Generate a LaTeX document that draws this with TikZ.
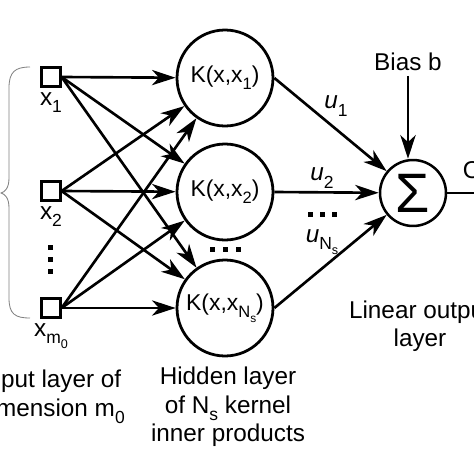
\documentclass[tikz,border=0pt]{standalone}
\usepackage{fontspec}
\setmainfont{Liberation Sans}
\usetikzlibrary{arrows.meta}

\newcommand{\lsub}[1]{\raisebox{-0.3em}{\scalebox{0.72}{#1}}}

\begin{document}
\begin{tikzpicture}[x=0.02532cm, y=-0.02532cm,
    >={Stealth[length=17pt, width=11pt, inset=5pt]},
    every node/.style={font=\fontsize{17.5}{20.5}\selectfont},
    inbox/.style={draw, line width=1.6pt, minimum size=0.48cm, inner sep=0pt},
    kernel/.style={draw, circle, line width=2pt, minimum size=2.43cm,
        inner sep=0pt, font=\fontsize{16.5}{20}\selectfont},
    link/.style={->, line width=1.9pt}]

% Frame of the picture
\useasboundingbox (0,0) rectangle (474,474);
\clip (0,0) rectangle (474,474);

% Input layer
\node[inbox, label=below:{x\lsub{1}}] (in1) at (51,77) {};
\node[inbox, label=below:{x\lsub{2}}] (in2) at (51,191) {};
\node[inbox, label=below:{x\lsub{m\lsub{0}}}] (in3) at (51,308) {};
\foreach \y in {247,259,271}
    \fill (48,\y-2.5) rectangle (53,\y+2.5);

% Brace round the inputs
\draw[gray, line width=0.6pt] (30,67) .. controls (15,67) and (9,72) .. (9,88)
    -- (9,178) .. controls (9,188) and (5,192) .. (1,193)
    .. controls (5,194) and (9,198) .. (9,208)
    -- (9,298) .. controls (9,314) and (15,318) .. (30,318);

% Hidden layer of kernels
\node[kernel] (hid1) at (225,78) {K(x,x\lsub{1})};
\node[kernel] (hid2) at (225,192) {K(x,x\lsub{2})};
\node[kernel] (hid3) at (225,308) {K(x,x\lsub{N\lsub{s}})};
\foreach \x in {212,225,238}
    \fill (\x-2.5,246.5) rectangle (\x+2.5,251.5);

% Every input feeds every kernel
\foreach \i in {1,2,3}
    \foreach \j in {1,2,3}
        \draw[link] (in\i.east) -- (hid\j);

% Output unit
\node[draw, circle, line width=1.8pt, minimum size=1.67cm, inner sep=0pt,
    font=\fontsize{40}{40}\selectfont] (sum) at (413,193) {Σ};
\foreach \j in {1,2,3}
    \draw[link] (hid\j.east) -- (sum);

% Weights
\node (u1) at (336,106) {\textit{u}\lsub{1}};
\node (u2) at (322,178) {\textit{u}\lsub{2}};
\node (uN) at (322,242) {\textit{u}\lsub{N\lsub{s}}};
\foreach \x in {310,322,334}
    \fill (\x-2.5,211.5) rectangle (\x+2.5,216.5);

% Bias and output line
\node (bias) at (408,62) {Bias b};
\draw[link] (bias.south) -- (bias.south |- sum.north);
\coordinate (out) at (474,193);
\draw[line width=1.8pt] (sum.east) -- (out);
\node[anchor=west] (outlbl) at (458,173) {Output};

% Layer captions
\node[align=center] (inlbl) at (51,397) {Input layer of\\dimension m\lsub{0}};
\node[align=center] (hidlbl) at (228,407) {Hidden layer\\of N\lsub{s} kernel\\inner products};
\node[align=center] (outlayer) at (420,326) {Linear output\\layer};

\end{tikzpicture}
\end{document}
